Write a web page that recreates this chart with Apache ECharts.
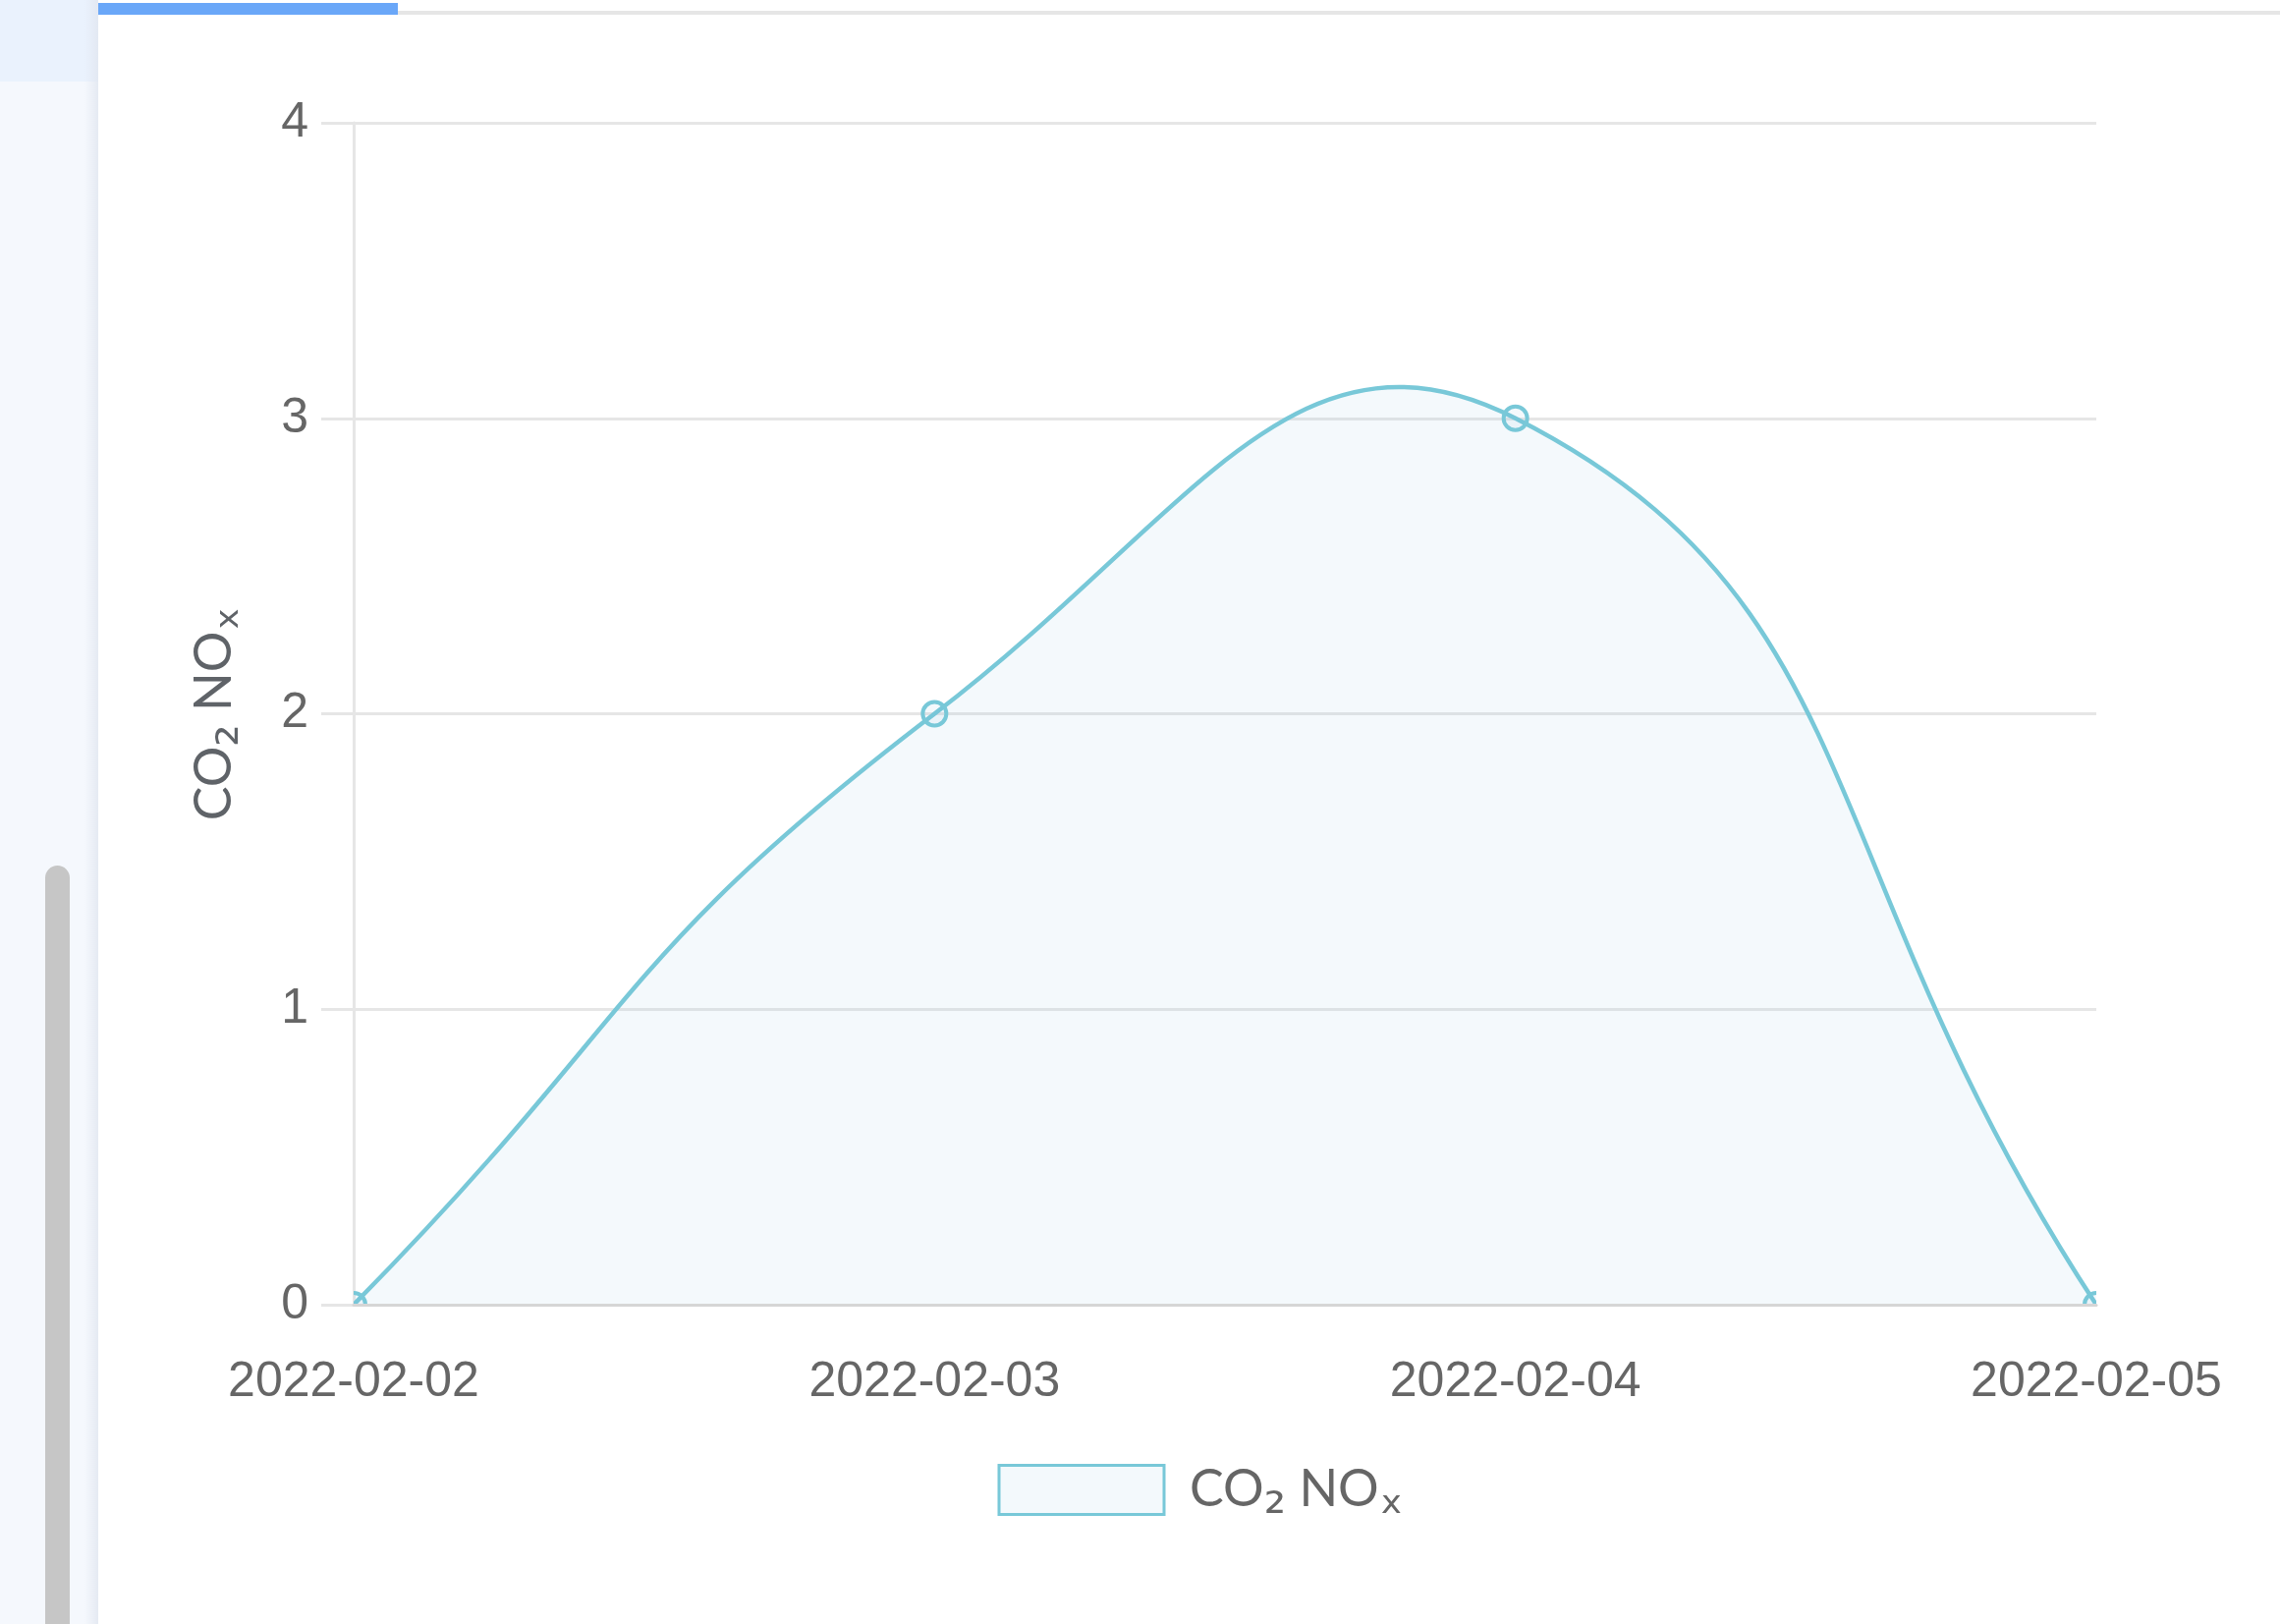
<!DOCTYPE html>
<html>
<head>
<meta charset="utf-8">
<script src="https://cdn.jsdelivr.net/npm/echarts@6/dist/echarts.min.js"></script>
<style>
  html, body { margin: 0; padding: 0; width: 2321px; height: 1653px; overflow: hidden; background: #ffffff; }
  #sidebar { position: absolute; left: 0; top: 0; width: 100px; height: 1653px; background: #f5f8fd; }
  #sidebarTop { position: absolute; left: 0; top: 0; width: 100px; height: 83px; background: #eaf2fd; }
  #sideShadow { position: absolute; left: 86px; top: 0; width: 14px; height: 1653px; background: linear-gradient(to right, rgba(225,230,240,0), rgba(225,230,240,0.8)); }
  #scroll { position: absolute; left: 46px; top: 881px; width: 25px; height: 800px; border-radius: 12.5px; background: #c6c6c6; }
  #tabLine { position: absolute; left: 405px; top: 11px; width: 1916px; height: 4px; background: #e6e6e6; }
  #tabBlue { position: absolute; left: 100px; top: 3px; width: 305px; height: 12px; background: #6aa7f8; }
  #chart { position: absolute; left: 0; top: 0; width: 2321px; height: 1653px; }
</style>
</head>
<body>
<div id="sidebar"></div>
<div id="sidebarTop"></div>
<div id="sideShadow"></div>
<div id="scroll"></div>
<div id="tabLine"></div>
<div id="tabBlue"></div>
<div id="chart"></div>
<script>
// ---- data ----
const categories = ['2022-02-02', '2022-02-03', '2022-02-04', '2022-02-05'];
const seriesName = 'CO\u2082 NO\u2093';
const seriesValues = [0, 2, 3, 0];
const yTicks = [0, 1, 2, 3, 4];

const lineColor = '#78c8d8';
const areaFill = 'rgba(110,180,215,0.08)';
const legendFill = '#f3f9fc';
const gridColor = '#e6e6e6';
const tension = 0.5;

// rich text: subscript characters rendered with a font that has them, set a little lower
function richName(name) {
  return ('{m|' + name.replace(/([\u2080-\u209C]+)/g, '}{s|$1}{m|') + '}').replace(/\{m\|\}/g, '');
}
function richStyles(color, size) {
  return {
    m: { fontFamily: 'Lato', fontSize: size, color: color, lineHeight: 80 },
    s: { fontFamily: 'DejaVu Sans', fontSize: size + 4, color: color, lineHeight: 80, padding: [18, 0, 0, 0] }
  };
}

// Chart.js-style spline control points (pixel space)
function controlPoints(pts) {
  const n = pts.length;
  const res = [];
  for (let i = 0; i < n; i++) {
    const cur = pts[i];
    const prev = i > 0 ? pts[i - 1] : cur;
    const next = i < n - 1 ? pts[i + 1] : cur;
    const d01 = Math.hypot(cur[0] - prev[0], cur[1] - prev[1]);
    const d12 = Math.hypot(next[0] - cur[0], next[1] - cur[1]);
    let s01 = d01 / (d01 + d12), s12 = d12 / (d01 + d12);
    if (isNaN(s01)) s01 = 0;
    if (isNaN(s12)) s12 = 0;
    const fa = tension * s01, fb = tension * s12;
    res.push({
      prev: [cur[0] - fa * (next[0] - prev[0]), cur[1] - fa * (next[1] - prev[1])],
      next: [cur[0] + fb * (next[0] - prev[0]), cur[1] + fb * (next[1] - prev[1])]
    });
  }
  return res;
}

function renderItem(params, api) {
  const i = params.dataIndex;
  const cs = params.coordSys;
  const clamp = function (p) {
    return [Math.min(Math.max(p[0], cs.x), cs.x + cs.width), Math.min(Math.max(p[1], cs.y), cs.y + cs.height)];
  };
  const pts = seriesValues.map(function (v, k) { return api.coord([k, v]); });
  const children = [];
  if (i === 0) {
    const cps = controlPoints(pts);
    let line = 'M' + pts[0][0] + ',' + pts[0][1];
    for (let k = 1; k < pts.length; k++) {
      const c1 = clamp(cps[k - 1].next), c2 = clamp(cps[k].prev);
      line += 'C' + c1[0] + ',' + c1[1] + ',' + c2[0] + ',' + c2[1] + ',' + pts[k][0] + ',' + pts[k][1];
    }
    const base = api.coord([0, 0])[1];
    const last = pts[pts.length - 1];
    const area = line + 'L' + last[0] + ',' + base + 'L' + pts[0][0] + ',' + base + 'Z';
    children.push({ type: 'path', shape: { pathData: area }, style: { fill: areaFill, stroke: null }, z2: 0 });
    children.push({ type: 'path', shape: { pathData: line }, style: { fill: null, stroke: lineColor, lineWidth: 4.5 }, z2: 1 });
  }
  const p = api.coord([api.value(0), api.value(1)]);
  children.push({ type: 'circle', shape: { cx: p[0], cy: p[1], r: 12 }, style: { fill: areaFill, stroke: lineColor, lineWidth: 4 }, z2: 2 });
  return {
    type: 'group',
    children: children,
    clipPath: { type: 'rect', shape: { x: cs.x, y: cs.y, width: cs.width, height: cs.height } }
  };
}

const chart = echarts.init(document.getElementById('chart'), null, { renderer: 'canvas' });
chart.setOption({
  animation: false,
  backgroundColor: 'transparent',
  grid: { left: 360, right: 187, top: 125, bottom: 325, containLabel: false },
  xAxis: {
    type: 'category',
    data: categories,
    boundaryGap: false,
    z: 3,
    axisLine: { show: true, lineStyle: { color: '#d6d6d6', width: 3 } },
    axisTick: { show: false },
    splitLine: { show: false },
    axisLabel: {
      interval: 0,
      margin: 54,
      color: '#666666',
      fontFamily: 'Liberation Sans',
      fontSize: 50
    }
  },
  yAxis: {
    type: 'value',
    min: yTicks[0],
    max: yTicks[yTicks.length - 1],
    interval: 1,
    name: richName(seriesName),
    nameLocation: 'middle',
    nameGap: 102,
    nameTextStyle: { color: '#5f6368', fontFamily: 'Lato', fontSize: 52, rich: richStyles('#5f6368', 52) },
    axisLine: { show: true, lineStyle: { color: gridColor, width: 3 } },
    axisTick: { show: true, length: 33, lineStyle: { color: gridColor, width: 3 } },
    splitLine: { show: true, lineStyle: { color: gridColor, width: 3 } },
    axisLabel: {
      margin: 46,
      color: '#666666',
      fontFamily: 'Liberation Sans',
      fontSize: 50
    }
  },
  legend: {
    show: true,
    left: 1015.5,
    top: 1479.5,
    padding: 0,
    icon: 'rect',
    itemWidth: 168,
    itemHeight: 50,
    itemStyle: { color: legendFill, borderColor: lineColor, borderWidth: 3 },
    formatter: function (name) { return richName(name); },
    textStyle: { color: '#666666', fontFamily: 'Lato', fontSize: 52, padding: [0, 0, 0, 21], rich: richStyles('#666666', 52) },
    data: [seriesName]
  },
  series: [{
    name: seriesName,
    type: 'custom',
    coordinateSystem: 'cartesian2d',
    data: seriesValues.map(function (v, i) { return [i, v]; }),
    encode: { x: 0, y: 1 },
    itemStyle: { color: lineColor },
    renderItem: renderItem,
    emphasis: { disabled: true }
  }]
});
</script>
</body>
</html>
